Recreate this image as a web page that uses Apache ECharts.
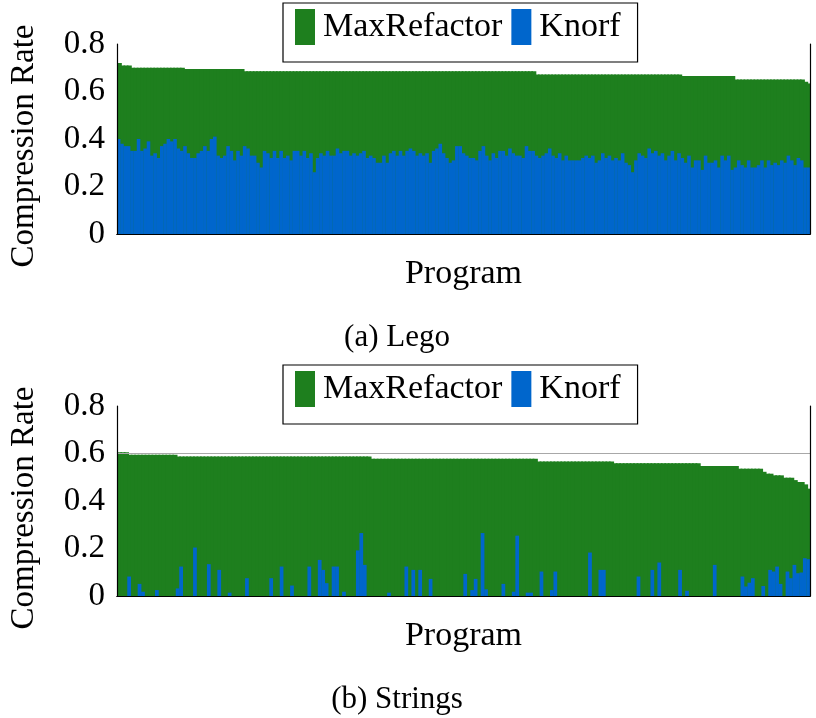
<!DOCTYPE html>
<html><head><meta charset="utf-8">
<script src="https://cdn.jsdelivr.net/npm/echarts@6/dist/echarts.min.js"></script>
<style>html,body{margin:0;padding:0;background:#fff}#c{width:816px;height:718px}</style>
</head><body><div id="c"></div>
<script>
// ---- data ----
const seriesNames = ['MaxRefactor', 'Knorf'];
const yTickValues = [0, 0.2, 0.4, 0.6, 0.8];
const captions = ['(a) Lego', '(b) Strings'];

const legoMaxRefactor = [
0.72,0.71,0.71,0.71,0.70,0.70,0.70,0.70,0.70,0.70,
0.70,0.70,0.70,0.70,0.70,0.70,0.70,0.70,0.70,0.70,
0.695,0.695,0.695,0.695,0.695,0.695,0.695,0.695,0.695,0.695,
0.695,0.695,0.695,0.695,0.695,0.695,0.695,0.695,0.685,0.685,
0.685,0.685,0.685,0.685,0.685,0.685,0.685,0.685,0.685,0.685,
0.685,0.685,0.685,0.685,0.685,0.685,0.685,0.685,0.685,0.685,
0.685,0.685,0.685,0.685,0.685,0.685,0.685,0.685,0.685,0.685,
0.685,0.685,0.685,0.685,0.685,0.685,0.685,0.685,0.685,0.685,
0.685,0.685,0.685,0.685,0.685,0.685,0.685,0.685,0.685,0.685,
0.685,0.685,0.685,0.685,0.685,0.685,0.685,0.685,0.685,0.685,
0.685,0.685,0.685,0.685,0.685,0.685,0.685,0.685,0.685,0.685,
0.685,0.685,0.685,0.685,0.685,0.685,0.685,0.685,0.685,0.685,
0.685,0.685,0.685,0.685,0.685,0.685,0.672,0.672,0.672,0.672,
0.672,0.672,0.672,0.672,0.672,0.672,0.672,0.672,0.672,0.672,
0.672,0.672,0.672,0.672,0.672,0.672,0.672,0.672,0.672,0.672,
0.672,0.672,0.672,0.672,0.672,0.672,0.672,0.672,0.672,0.672,
0.672,0.672,0.672,0.672,0.672,0.672,0.672,0.672,0.672,0.672,
0.665,0.665,0.665,0.665,0.665,0.665,0.665,0.665,0.665,0.665,
0.665,0.665,0.665,0.665,0.665,0.665,0.651,0.651,0.651,0.651,
0.651,0.651,0.651,0.651,0.651,0.651,0.651,0.651,0.651,0.651,
0.651,0.651,0.651,0.651,0.651,0.651,0.651,0.641,0.634
];

const legoKnorf = [
0.40,0.38,0.37,0.37,0.35,0.35,0.40,0.35,0.36,0.39,
0.33,0.34,0.32,0.37,0.38,0.40,0.39,0.40,0.36,0.35,
0.37,0.34,0.32,0.32,0.34,0.35,0.37,0.35,0.40,0.41,
0.33,0.32,0.33,0.37,0.35,0.31,0.35,0.33,0.37,0.36,
0.33,0.33,0.30,0.28,0.35,0.34,0.32,0.35,0.32,0.35,
0.32,0.33,0.31,0.35,0.35,0.33,0.35,0.32,0.34,0.26,
0.32,0.34,0.33,0.35,0.33,0.33,0.36,0.34,0.35,0.35,
0.33,0.34,0.33,0.34,0.35,0.32,0.33,0.32,0.30,0.30,
0.33,0.30,0.34,0.35,0.33,0.35,0.33,0.35,0.36,0.35,
0.33,0.34,0.33,0.34,0.30,0.35,0.36,0.38,0.34,0.32,
0.30,0.31,0.37,0.37,
0.34,0.33,0.32,0.32,0.31,0.35,0.37,0.33,0.31,0.34,
0.32,0.35,0.35,0.33,0.36,0.34,0.33,0.33,0.32,0.37,
0.35,0.35,0.33,0.32,0.33,0.34,0.36,0.33,0.32,0.34,
0.31,0.33,0.31,0.31,0.31,0.31,0.32,0.33,0.32,0.33,
0.30,0.31,0.34,0.32,0.33,0.31,0.32,0.31,0.34,0.30,
0.29,0.26,0.31,0.34,0.33,0.32,0.36,0.34,0.35,0.33,
0.34,0.31,0.33,0.35,0.31,0.34,0.32,0.30,0.33,0.28,
0.31,0.31,0.27,0.33,0.30,0.30,0.31,0.28,0.33,0.31,
0.33,0.27,0.28,0.31,0.29,0.28,0.31,0.28,0.28,0.29,
0.31,0.28,0.31,0.29,0.30,0.29,0.31,0.30,0.33,0.31,
0.29,0.32,0.31,0.28,0.28
];

const stringsMaxRefactor = [
0.605,0.605,0.605,0.595,0.595,0.595,0.595,0.595,0.595,0.595,
0.595,0.595,0.595,0.595,0.595,0.595,0.595,0.587,0.587,0.587,
0.587,0.587,0.587,0.587,0.587,0.587,0.587,0.587,0.587,0.587,
0.587,0.587,0.587,0.587,0.587,0.587,0.587,0.587,0.587,0.587,
0.587,0.587,0.587,0.587,0.587,0.587,0.587,0.587,0.587,0.587,
0.587,0.587,0.587,0.587,0.587,0.587,0.587,0.587,0.587,0.587,
0.587,0.587,0.587,0.587,0.587,0.587,0.587,0.587,0.587,0.587,
0.587,0.587,0.587,0.578,0.578,0.578,0.578,0.578,0.578,0.578,
0.578,0.578,0.578,0.578,0.578,0.578,0.578,0.578,0.578,0.578,
0.578,0.578,0.578,0.578,0.578,0.578,0.578,0.578,0.578,0.578,
0.578,0.578,0.578,0.578,0.578,0.578,0.578,0.578,0.578,0.578,
0.578,0.578,0.578,0.578,0.578,0.578,0.578,0.578,0.578,0.578,
0.578,0.566,0.566,0.566,0.566,0.566,0.566,0.566,0.566,0.566,
0.566,0.566,0.566,0.566,0.566,0.566,0.566,0.566,0.566,0.566,
0.566,0.566,0.566,0.559,0.559,0.559,0.559,0.559,0.559,0.559,
0.559,0.559,0.559,0.559,0.559,0.559,0.559,0.559,0.559,0.559,
0.559,0.559,0.559,0.559,0.559,0.559,0.559,0.559,0.547,0.547,
0.547,0.547,0.547,0.547,0.547,0.547,0.547,0.547,0.547,0.536,
0.536,0.536,0.536,0.536,0.536,0.536,0.523,0.515,0.515,0.508,
0.508,0.508,0.498,0.498,0.498,0.488,0.48,0.48,0.47,0.452
];

const stringsKnorf = [
0,0,0,0.082,0,0,0.051,0.018,0,0,
0,0.025,0,0,0,0,0,0.032,0.124,0,
0,0,0.204,0,0,0,0.134,0,0,0.110,
0,0,0.014,0,0,0,0,0.075,0,0,
0,0,0,0,0.075,0,0,0.124,0,0,
0.044,0,0,0,0,0.124,0,0,0.152,0.110,
0.054,0,0.124,0.124,0,0.018,0,0,0,0.192,
0.265,0.131,0,0,0,0,0,0,0.014,0,
0,0,0,0.124,0,0.110,0,0.110,0,0,
0.072,0,0,0,0,0,0,0,0,0,
0.093,0,0.025,0.072,0,0.265,0.028,0,0,0,
0,0.051,0,0,0.018,0.254,0,0,0.014,0.014,
0,0,0.103,0,0,0.025,0.103,0,0,0,
0,0,0,0,0,0,0.183,0,0,0.110,
0.110,0,0,0,0,0,0,0,0,0,
0.082,0,0,0,0.110,0,0.141,0,0,0,
0,0,0.110,0,0.022,0,0,0,0,0,
0,0,0.131,0,0,0,0,0,0,0,
0.082,0.040,0.056,0.075,0,0,0.042,0,0.110,0.103,
0.124,0.051,0,0.103,0.075,0.131,0.096,0.099,0.159,0.155
];

const stringsReferenceLine = 0.6;

const legoPrograms = legoKnorf.map((_, i) => String(i + 1));
const stringsPrograms = stringsKnorf.map((_, i) => String(i + 1));

// ---- style ----
const FONT = 'Liberation Serif';
const GREEN = '#1e7f1e';
const BLUE = '#0066cc';
const yMin = yTickValues[0], yMax = yTickValues[yTickValues.length - 1];
const yStep = yTickValues[1] - yTickValues[0];

const chart = echarts.init(document.getElementById('c'), null, {renderer: 'canvas'});

function xAxes(grid, cats) {
  return [
    {gridIndex: grid, type: 'category', data: cats, position: 'bottom', z: 5,
     axisLine: {show: true, lineStyle: {color: '#000', width: 1.2}},
     axisTick: {show: false}, axisLabel: {show: false}, splitLine: {show: false},
     name: 'Program', nameLocation: 'middle', nameGap: 23,
     nameTextStyle: {fontFamily: FONT, fontSize: 34, color: '#000'}},
    {gridIndex: grid, type: 'category', data: cats, position: 'top', z: 5,
     axisLine: {show: true, lineStyle: {color: '#000', width: 1.2}},
     axisTick: {show: false}, axisLabel: {show: false}, splitLine: {show: false}}
  ];
}
function yAxes(grid) {
  return [
    {gridIndex: grid, type: 'value', min: yMin, max: yMax, interval: yStep, position: 'left', z: 5,
     axisLine: {show: true, onZero: false, lineStyle: {color: '#000', width: 1.2}},
     axisTick: {show: false}, splitLine: {show: false},
     axisLabel: {fontFamily: FONT, fontSize: 33, color: '#000', margin: 12},
     name: 'Compression Rate', nameLocation: 'middle', nameGap: 76, nameRotate: 90,
     nameTextStyle: {fontFamily: FONT, fontSize: 33, color: '#000', padding: [0, 14, 0, 0]}},
    {gridIndex: grid, type: 'value', min: yMin, max: yMax, interval: yStep, position: 'right', z: 5,
     axisLine: {show: true, onZero: false, lineStyle: {color: '#000', width: 1.2}},
     axisTick: {show: false}, splitLine: {show: false}, axisLabel: {show: false}}
  ];
}
function bar(name, data, axisIdx, color, width, extra) {
  return Object.assign({
    type: 'bar', name: name, data: data, xAxisIndex: axisIdx, yAxisIndex: axisIdx,
    barWidth: width, barGap: '-100%', itemStyle: {color: color},
    silent: true, animation: false
  }, extra || {});
}
function legend(top) {
  return {
    data: seriesNames, left: 283, top: top, orient: 'horizontal', icon: 'rect',
    itemWidth: 20, itemHeight: 36, itemGap: 9, padding: [6, 17, 17, 12],
    borderColor: '#000', borderWidth: 1.2, backgroundColor: '#fff', selectedMode: false, z: 10,
    textStyle: {fontFamily: FONT, fontSize: 34, color: '#000', padding: [0, 0, 0, 3]}
  };
}

chart.setOption({
  animation: false,
  backgroundColor: '#fff',
  color: [GREEN, BLUE],
  grid: [
    {left: 112, right: 6, top: 44, height: 190},
    {left: 112, right: 6, top: 406, height: 190}
  ],
  legend: [legend(3), legend(365)],
  xAxis: xAxes(0, legoPrograms).concat(xAxes(1, stringsPrograms)),
  yAxis: yAxes(0).concat(yAxes(1)),
  series: [
    bar(seriesNames[0], legoMaxRefactor, 0, GREEN, '150%'),
    bar(seriesNames[1], legoKnorf, 0, BLUE, '108%'),
    bar(seriesNames[0], stringsMaxRefactor, 2, GREEN, '150%', {
      markLine: {silent: true, symbol: 'none', label: {show: false}, animation: false,
        lineStyle: {color: '#a8a8a8', width: 1.2, type: 'solid'},
        data: [{yAxis: stringsReferenceLine}]}
    }),
    bar(seriesNames[1], stringsKnorf, 2, BLUE, '108%')
  ],
  graphic: [
    {type: 'text', x: 397, y: 338, style: {text: captions[0], fontFamily: FONT, fontSize: 31, fill: '#000', align: 'center', verticalAlign: 'middle'}},
    {type: 'text', x: 397, y: 700, style: {text: captions[1], fontFamily: FONT, fontSize: 31, fill: '#000', align: 'center', verticalAlign: 'middle'}}
  ]
});
</script></body></html>
